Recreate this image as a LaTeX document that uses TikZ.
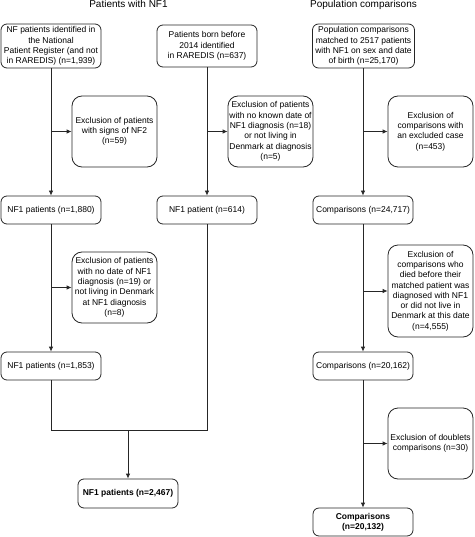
\documentclass[tikz,border=0pt]{standalone}
\usepackage{fontspec}
\setmainfont{Liberation Sans}
\usetikzlibrary{arrows.meta}
\begin{document}
\begin{tikzpicture}[x=1pt,y=-1pt,
  every node/.style={font=\fontsize{8.5}{10.3}\selectfont, align=center, inner sep=1pt},
  mainbox/.style={draw=black!85, line width=0.8pt, rounded corners=6pt, minimum width=100pt, minimum height=28pt},
  exbox/.style={draw=black!85, line width=0.8pt, rounded corners=10pt, minimum width=85pt, minimum height=71pt},
  titletext/.style={font=\fontsize{10}{12}\selectfont},
  link/.style={draw=black!85, line width=0.8pt},
  arrowlink/.style={link, -{Latex[length=5pt,width=4.5pt]}}]
\useasboundingbox (0,0) rectangle (474,537);

% titles
\node[titletext, anchor=base] (t1) at (128.5,7.5) {Patients with NF1};
\node[titletext, anchor=base] (t2) at (363.5,7.5) {Population comparisons};

% top boxes
\node[mainbox, minimum height=44pt] (b1) at (51,46) {NF patients identified in\\the National\\Patient Register (and not\\in RAREDIS) (n=1,939)};
\node[mainbox, minimum height=42pt] (b2) at (207,46) {Patients born before\\2014 identified\\in RAREDIS (n=637)};
\node[mainbox, minimum height=44pt, minimum width=102pt] (b3) at (363.5,46) {Population comparisons\\matched to 2517 patients\\with NF1 on sex and date\\of birth (n=25,170)};

% first exclusions
\node[exbox] (e1) at (114.5,131.5) {Exclusion of patients\\with signs of NF2\\(n=59)};
\node[exbox] (e2) at (270.5,131.5) {Exclusion of patients\\with no known date of\\NF1 diagnosis (n=18)\\or not living in\\Denmark at diagnosis\\(n=5)};
\node[exbox] (e3) at (430.5,131.5) {Exclusion of\\comparisons with\\an excluded case\\(n=453)};

% second row
\node[mainbox] (n1) at (51,210) {NF1 patients (n=1,880)};
\node[mainbox] (n2) at (207,210) {NF1 patient (n=614)};
\node[mainbox] (c1) at (363,210) {Comparisons (n=24,717)};

% second exclusions
\node[exbox] (e4) at (114.5,287.5) {Exclusion of patients\\with no date of NF1\\diagnosis (n=19) or\\not living in Denmark\\at NF1 diagnosis\\(n=8)};
\node[exbox, minimum height=92pt] (e5) at (430.5,291) {Exclusion of\\comparisons who\\died before their\\matched patient was\\diagnosed with NF1\\or did not live in\\Denmark at this date\\(n=4,555)};

% third row
\node[mainbox] (n3) at (51,366) {NF1 patients (n=1,853)};
\node[mainbox] (c2) at (363,366) {Comparisons (n=20,162)};

% third exclusion
\node[exbox] (e6) at (430.5,443.5) {Exclusion of doublets\\comparisons (n=30)};

% final boxes
\node[mainbox, minimum height=29pt, font=\bfseries\fontsize{8.5}{10.3}\selectfont] (nf) at (128,493.5) {NF1 patients (n=2,467)};
\node[mainbox, minimum height=28pt, font=\bfseries\fontsize{8.5}{10.3}\selectfont] (c3) at (363,522) {Comparisons\\(n=20,132)};

% connectors: left column
\draw[arrowlink] (b1.south) -- (n1.north);
\draw[arrowlink] (b1.south |- e1.west) -- (e1.west);
\draw[arrowlink] (n1.south) -- (n3.north);
\draw[arrowlink] (n1.south |- e4.west) -- (e4.west);

% middle column
\draw[arrowlink] (b2.south) -- (n2.north);
\draw[arrowlink] (b2.south |- e2.west) -- (e2.west);

% merge
\coordinate (m) at (128,430);
\draw[link] (n3.south) |- (m);
\draw[link] (n2.south) |- (m);
\draw[arrowlink] (m) -- (nf.north);

% right column
\draw[arrowlink] (b3.south -| c1.north) -- (c1.north);
\draw[arrowlink] (c1.north |- e3.west) -- (e3.west);
\draw[arrowlink] (c1.south) -- (c2.north);
\draw[arrowlink] (c1.south |- e5.west) -- (e5.west);
\draw[arrowlink] (c2.south) -- (c3.north);
\draw[arrowlink] (c2.south |- e6.west) -- (e6.west);
\end{tikzpicture}
\end{document}
